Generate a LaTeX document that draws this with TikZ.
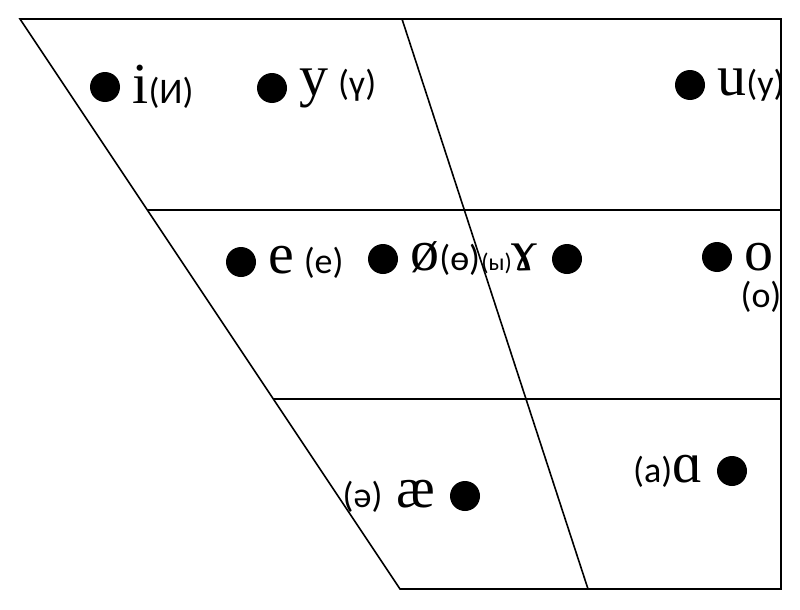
\documentclass[tikz,border=0pt]{standalone}
\usepackage{fontspec}
\newfontfamily\ipafont{Liberation Serif}
\newfontfamily\cyrfont{Carlito}
\usetikzlibrary{positioning}
\newcommand\cyr[1][36]{\cyrfont\fontsize{#1}{#1}\selectfont}

\begin{document}
\begin{tikzpicture}
    [ x = 1pt, y = -1pt
    , vowel/.style =
      { fill, circle, inner sep = 0pt, minimum size = 30pt }
    , lab/.style =
      { inner sep = 0pt, font = \ipafont\fontsize{58}{58}\selectfont }
    , border/.style =
      { line width = 1.6pt, line join = miter }
    ]
    \useasboundingbox (0,0) rectangle (800,610);

    % frame
    \coordinate (tl) at (20,19);
    \coordinate (tr) at (781,19);
    \coordinate (br) at (781,589);
    \coordinate (bl) at (400,589);
    \coordinate (tm) at (402,19);
    \coordinate (bm) at (588,589);
    \coordinate (ml) at (147,210);
    \coordinate (mr) at (781,210);
    \coordinate (ll) at (273,399);
    \coordinate (lr) at (781,399);

    \draw [border] (tl) -- (tr) -- (br) -- (bl) -- cycle;
    \draw [border] (tm) -- (bm);
    \draw [border] (ml) -- (mr);
    \draw [border] (ll) -- (lr);

    % close vowels
    \node [vowel] (i) at (105,87) {};
    \node [vowel] (y) at (272,88) {};
    \node [vowel] (u) at (690,85) {};
    \node [lab] (li) [right=12pt of i] {i{\cyr(И)}};
    \node [lab] (ly) [right=12pt of y] {y\,{\cyr(ү)}};
    \node [lab] (lu) [right=12pt of u] {u{\cyr(у)}};

    % mid vowels
    \node [vowel] (e) at (241,262) {};
    \node [vowel] (oe) at (383,259) {};
    \node [vowel] (ram) at (567,259) {};
    \node [vowel] (o) at (717,257) {};
    \node [lab] (le) [right=12pt of e] {e\,{\cyr(е)}};
    \node [lab] (loe) [right=12pt of oe] {ø{\cyr(ө)}};
    \node [lab] (lram) [left=14pt of ram] {{\cyr[24](ы)}ɤ};
    \node [lab] (lo) [right=12pt of o] {o};
    \node [inner sep=0pt, font=\cyr, anchor=base east] (lo2)
      at ([xshift=8pt, yshift=-37pt]lo.base east) {(о)};

    % open vowels
    \node [vowel] (ae) at (465,496) {};
    \node [vowel] (a) at (732,471) {};
    \node [lab] (lae) [left=14pt of ae] {{\cyr(ә)} æ};
    \node [lab] (la) [left=14pt of a] {{\cyr(а)}ɑ};
\end{tikzpicture}
\end{document}
